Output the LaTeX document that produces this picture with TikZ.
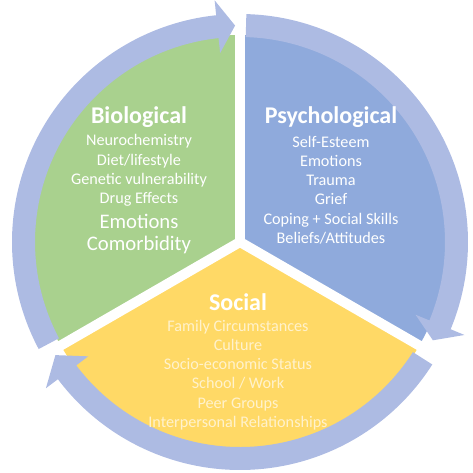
\documentclass[tikz,border=0pt]{standalone}
\usepackage{fontspec}
\setmainfont{Carlito}

\definecolor{ringblue}{HTML}{ADBBE3}
\definecolor{biogreen}{HTML}{A9D18E}
\definecolor{psyblue}{HTML}{8FAADC}
\definecolor{socyellow}{HTML}{FFD966}
\definecolor{socwhite}{HTML}{FFF2CC}

% one curved arrow of the ring: tail angle, base of the head, tip angle
\newcommand{\ringarrow}[3]{%
  \fill[ringblue] (#1:228) arc[start angle=#1, end angle=#2, radius=228]
    -- (#2:243) -- (#3:216.5) -- (#2:190) -- (#2:205)
    arc[start angle=#2, end angle=#1, radius=205] -- cycle;}

\tikzset{
  title/.style={text=white, font=\fontsize{24}{28}\selectfont\bfseries},
  items/.style={text=white, align=center, font=\fontsize{16.2}{19.2}\selectfont},
  bigitem/.style={text=white, font=\fontsize{20.7}{24}\selectfont},
}

\begin{document}
\begin{tikzpicture}[x=1pt, y=1pt]
  \useasboundingbox (-240,-231) rectangle (233,242);

  % the three sectors
  \fill[biogreen] (0,0) -- (90:207) arc[start angle=90, end angle=210, radius=207] -- cycle;
  \fill[psyblue] (0,0) -- (-30:207) arc[start angle=-30, end angle=90, radius=207] -- cycle;
  \fill[socyellow] (0,0) -- (210:207) arc[start angle=210, end angle=330, radius=207] -- cycle;

  % white gaps between the sectors
  \draw[white, line width=10pt] (0,0) -- (90:240);
  \draw[white, line width=10pt] (0,0) -- (210:240);
  \draw[white, line width=10pt] (0,0) -- (330:240);

  % the ring of arrows, clockwise
  \ringarrow{208}{96}{91.3}
  \ringarrow{88.4}{-22.5}{-27}
  \ringarrow{-32.5}{-143}{-148.5}

  % Biological
  \node[title] (bio) at (-101,125) {Biological};
  \node[items] (bioitems) at (-101,71.5) {Neurochemistry\\Diet/lifestyle\\Genetic vulnerability\\Drug Effects};
  \node[bigitem] (bioemo) at (-101,21) {Emotions};
  \node[bigitem] (biocomo) at (-101,-3) {Comorbidity};

  % Psychological
  \node[title] (psy) at (91,125) {Psychological};
  \node[items] (psyitems) at (91,52) {Self-Esteem\\Emotions\\Trauma\\Grief\\Coping + Social Skills\\Beliefs/Attitudes};

  % Social
  \node[title] (soc) at (-2,-60) {Social};
  \node[items, text=socwhite] (socitems) at (-2,-133) {Family Circumstances\\Culture\\Socio-economic Status\\School / Work\\Peer Groups\\Interpersonal Relationships};
\end{tikzpicture}
\end{document}
